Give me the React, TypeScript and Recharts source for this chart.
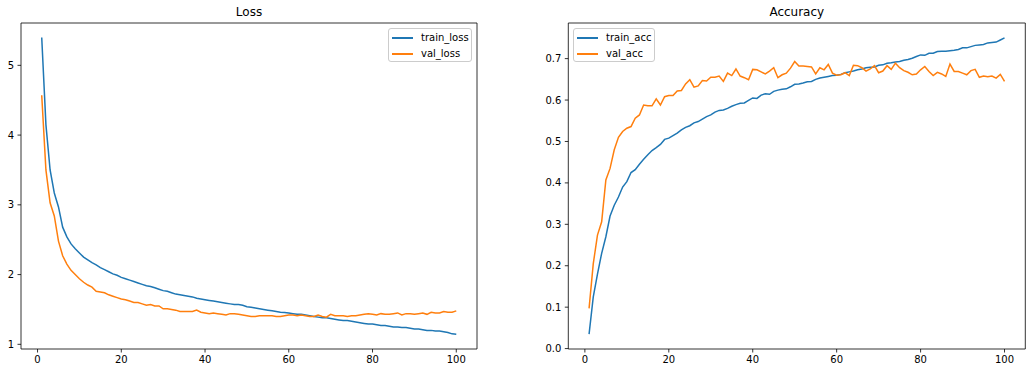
import React from 'react';
import { LineChart, Line, XAxis, YAxis, Legend, ReferenceArea } from 'recharts';

const epochs: number[] = Array.from({ length: 100 }, (_, i) => i + 1);

const trainLoss = [
  5.40, 4.15, 3.50, 3.17, 2.97, 2.68, 2.54, 2.44, 2.37, 2.31,
  2.25, 2.21, 2.17, 2.14, 2.10, 2.07, 2.04, 2.01, 1.99, 1.96,
  1.94, 1.92, 1.90, 1.88, 1.86, 1.84, 1.83, 1.81, 1.79, 1.77,
  1.76, 1.74, 1.72, 1.71, 1.70, 1.69, 1.68, 1.66, 1.65, 1.64,
  1.63, 1.62, 1.61, 1.60, 1.59, 1.58, 1.57, 1.57, 1.56, 1.54,
  1.53, 1.52, 1.51, 1.50, 1.49, 1.48, 1.47, 1.46, 1.455, 1.45,
  1.44, 1.43, 1.43, 1.42, 1.41, 1.40, 1.39, 1.38, 1.38, 1.37,
  1.36, 1.35, 1.34, 1.34, 1.33, 1.32, 1.31, 1.30, 1.29, 1.29,
  1.28, 1.27, 1.27, 1.26, 1.25, 1.25, 1.24, 1.24, 1.23, 1.22,
  1.22, 1.21, 1.20, 1.20, 1.19, 1.19, 1.18, 1.17, 1.15, 1.145,
];

const valLoss = [
  4.57, 3.50, 3.03, 2.84, 2.48, 2.27, 2.15, 2.06, 2.00, 1.94,
  1.89, 1.85, 1.82, 1.76, 1.75, 1.74, 1.71, 1.69, 1.67, 1.65,
  1.64, 1.62, 1.60, 1.60, 1.58, 1.56, 1.57, 1.55, 1.55, 1.51,
  1.51, 1.50, 1.49, 1.47, 1.47, 1.47, 1.47, 1.49, 1.46, 1.45,
  1.44, 1.45, 1.44, 1.43, 1.42, 1.44, 1.44, 1.43, 1.42, 1.41,
  1.40, 1.40, 1.41, 1.41, 1.41, 1.41, 1.40, 1.40, 1.41, 1.42,
  1.42, 1.41, 1.42, 1.41, 1.40, 1.40, 1.42, 1.40, 1.39, 1.43,
  1.41, 1.41, 1.41, 1.40, 1.41, 1.41, 1.42, 1.43, 1.44, 1.43,
  1.42, 1.44, 1.43, 1.43, 1.44, 1.45, 1.42, 1.44, 1.44, 1.43,
  1.44, 1.45, 1.43, 1.46, 1.45, 1.45, 1.47, 1.46, 1.46, 1.48,
];

const trainAcc = [
  0.035, 0.125, 0.18, 0.23, 0.27, 0.32, 0.346, 0.366, 0.39, 0.403,
  0.425, 0.432, 0.445, 0.457, 0.468, 0.478, 0.485, 0.493, 0.505, 0.508,
  0.514, 0.52, 0.528, 0.534, 0.538, 0.545, 0.548, 0.554, 0.56, 0.564,
  0.571, 0.575, 0.576, 0.58, 0.585, 0.589, 0.592, 0.593, 0.599, 0.605,
  0.604, 0.612, 0.615, 0.614, 0.621, 0.624, 0.626, 0.627, 0.632, 0.638,
  0.639, 0.641, 0.644, 0.645, 0.650, 0.653, 0.655, 0.657, 0.659, 0.660,
  0.662, 0.666, 0.668, 0.670, 0.673, 0.675, 0.678, 0.679, 0.680, 0.684,
  0.685, 0.689, 0.690, 0.692, 0.693, 0.696, 0.698, 0.701, 0.705, 0.709,
  0.708, 0.713, 0.713, 0.717, 0.718, 0.718, 0.719, 0.720, 0.722, 0.726,
  0.726, 0.729, 0.732, 0.733, 0.734, 0.738, 0.739, 0.740, 0.745, 0.750,
];

const valAcc = [
  0.097, 0.205, 0.274, 0.306, 0.407, 0.435, 0.48, 0.51, 0.524, 0.532,
  0.536, 0.556, 0.564, 0.588, 0.586, 0.586, 0.603, 0.588, 0.608, 0.611,
  0.611, 0.622, 0.623, 0.639, 0.649, 0.631, 0.634, 0.647, 0.646, 0.655,
  0.655, 0.658, 0.645, 0.665, 0.659, 0.675, 0.658, 0.654, 0.649, 0.674,
  0.673, 0.668, 0.663, 0.670, 0.678, 0.654, 0.661, 0.665, 0.677, 0.693,
  0.682, 0.682, 0.681, 0.680, 0.663, 0.678, 0.673, 0.686, 0.665, 0.660,
  0.661, 0.666, 0.659, 0.684, 0.683, 0.678, 0.670, 0.675, 0.683, 0.666,
  0.670, 0.683, 0.674, 0.689, 0.678, 0.671, 0.667, 0.661, 0.663, 0.673,
  0.681, 0.669, 0.659, 0.667, 0.663, 0.657, 0.687, 0.669, 0.669, 0.665,
  0.661, 0.671, 0.674, 0.655, 0.658, 0.656, 0.658, 0.653, 0.662, 0.645,
];

const epochTicks = [0, 20, 40, 60, 80, 100];
const lossTicks = [1, 2, 3, 4, 5];
const accTicks = [0, 0.1, 0.2, 0.3, 0.4, 0.5, 0.6, 0.7];

const lossData = epochs.map((e, i) => ({ epoch: e, train_loss: trainLoss[i], val_loss: valLoss[i] }));
const accData = epochs.map((e, i) => ({ epoch: e, train_acc: trainAcc[i], val_acc: valAcc[i] }));

const FONT = "'DejaVu Sans', Verdana, sans-serif";
const BLUE = '#1f77b4';
const ORANGE = '#ff7f0e';
const X_DOMAIN: [number, number] = [-3.95, 104.95];

const tickStyle = { fontSize: 10, fill: '#000', fontFamily: FONT };

function MplLegend(props: any) {
  const payload = props.payload || [];
  return (
    <div
      style={{
        boxSizing: 'border-box',
        width: props.boxWidth,
        height: 34,
        border: '1px solid #cccccc',
        borderRadius: 3,
        background: 'rgba(255,255,255,0.8)',
        padding: '1px 0 0 3px',
        fontFamily: FONT,
        fontSize: 10,
        color: '#000',
      }}
    >
      {payload.map((p: any) => (
        <div key={p.value} style={{ display: 'flex', alignItems: 'center', height: 16 }}>
          <span style={{ display: 'inline-block', width: 21, height: 1.5, background: p.color, marginRight: 8 }} />
          <span style={{ lineHeight: '16px', whiteSpace: 'nowrap' }}>{p.value}</span>
        </div>
      ))}
    </div>
  );
}

type PanelProps = {
  left: number;
  width: number;
  yWidth: number;
  rightMargin: number;
  data: any[];
  keys: [string, string];
  yDomain: [number, number];
  yTicks: number[];
  yFmt: (v: number) => string;
  title: string;
  legendLeft: number;
  legendWidth: number;
};

function Panel(p: PanelProps) {
  const plotLeft = p.yWidth;
  const plotWidth = p.width - p.yWidth - p.rightMargin;
  return (
    <div style={{ position: 'absolute', left: p.left, top: 0, width: p.width, height: 373 }}>
      <div
        style={{
          position: 'absolute',
          left: plotLeft,
          width: plotWidth,
          top: 5,
          lineHeight: '14px',
          textAlign: 'center',
          fontFamily: FONT,
          fontSize: 12,
          color: '#000',
        }}
      >
        {p.title}
      </div>
      <LineChart width={p.width} height={373} data={p.data} margin={{ top: 23, right: p.rightMargin, bottom: 0, left: 0 }}>
        <XAxis
          dataKey="epoch"
          type="number"
          domain={X_DOMAIN}
          ticks={epochTicks}
          allowDataOverflow
          height={24}
          tickSize={3.5}
          tickMargin={3}
          axisLine={false}
          tickLine={{ stroke: '#000', strokeWidth: 0.8 }}
          tick={tickStyle}
          interval={0}
        />
        <YAxis
          type="number"
          domain={p.yDomain}
          ticks={p.yTicks}
          allowDataOverflow
          width={p.yWidth}
          tickSize={3.5}
          tickMargin={3.5}
          axisLine={false}
          tickLine={{ stroke: '#000', strokeWidth: 0.8 }}
          tick={tickStyle}
          tickFormatter={p.yFmt}
          interval={0}
        />
        <Line
          type="linear"
          dataKey={p.keys[0]}
          name={p.keys[0]}
          stroke={BLUE}
          strokeWidth={1.5}
          dot={false}
          activeDot={false}
          isAnimationActive={false}
        />
        <Line
          type="linear"
          dataKey={p.keys[1]}
          name={p.keys[1]}
          stroke={ORANGE}
          strokeWidth={1.5}
          dot={false}
          activeDot={false}
          isAnimationActive={false}
        />
        <ReferenceArea
          x1={X_DOMAIN[0]}
          x2={X_DOMAIN[1]}
          y1={p.yDomain[0]}
          y2={p.yDomain[1]}
          fill="none"
          fillOpacity={0}
          stroke="#000"
          strokeWidth={0.8}
          ifOverflow="visible"
        />
        <Legend
          layout="vertical"
          align="center"
          verticalAlign="middle"
          wrapperStyle={{ left: p.legendLeft, top: 28, width: p.legendWidth, height: 34 }}
          content={(lp: any) => <MplLegend {...lp} boxWidth={p.legendWidth} />}
        />
      </LineChart>
    </div>
  );
}

export default function App() {
  return (
    <div style={{ position: 'absolute', left: 0, top: 0, width: 1032, height: 373, background: '#fff' }}>
      <Panel
        left={0}
        width={500}
        yWidth={21}
        rightMargin={23}
        data={lossData}
        keys={['train_loss', 'val_loss']}
        yDomain={[0.933, 5.607]}
        yTicks={lossTicks}
        yFmt={(v: number) => String(v)}
        title="Loss"
        legendLeft={388}
        legendWidth={84}
      />
      <Panel
        left={520}
        width={512}
        yWidth={48.3}
        rightMargin={6.7}
        data={accData}
        keys={['train_acc', 'val_acc']}
        yDomain={[-0.001, 0.786]}
        yTicks={accTicks}
        yFmt={(v: number) => v.toFixed(1)}
        title="Accuracy"
        legendLeft={53}
        legendWidth={82}
      />
    </div>
  );
}
